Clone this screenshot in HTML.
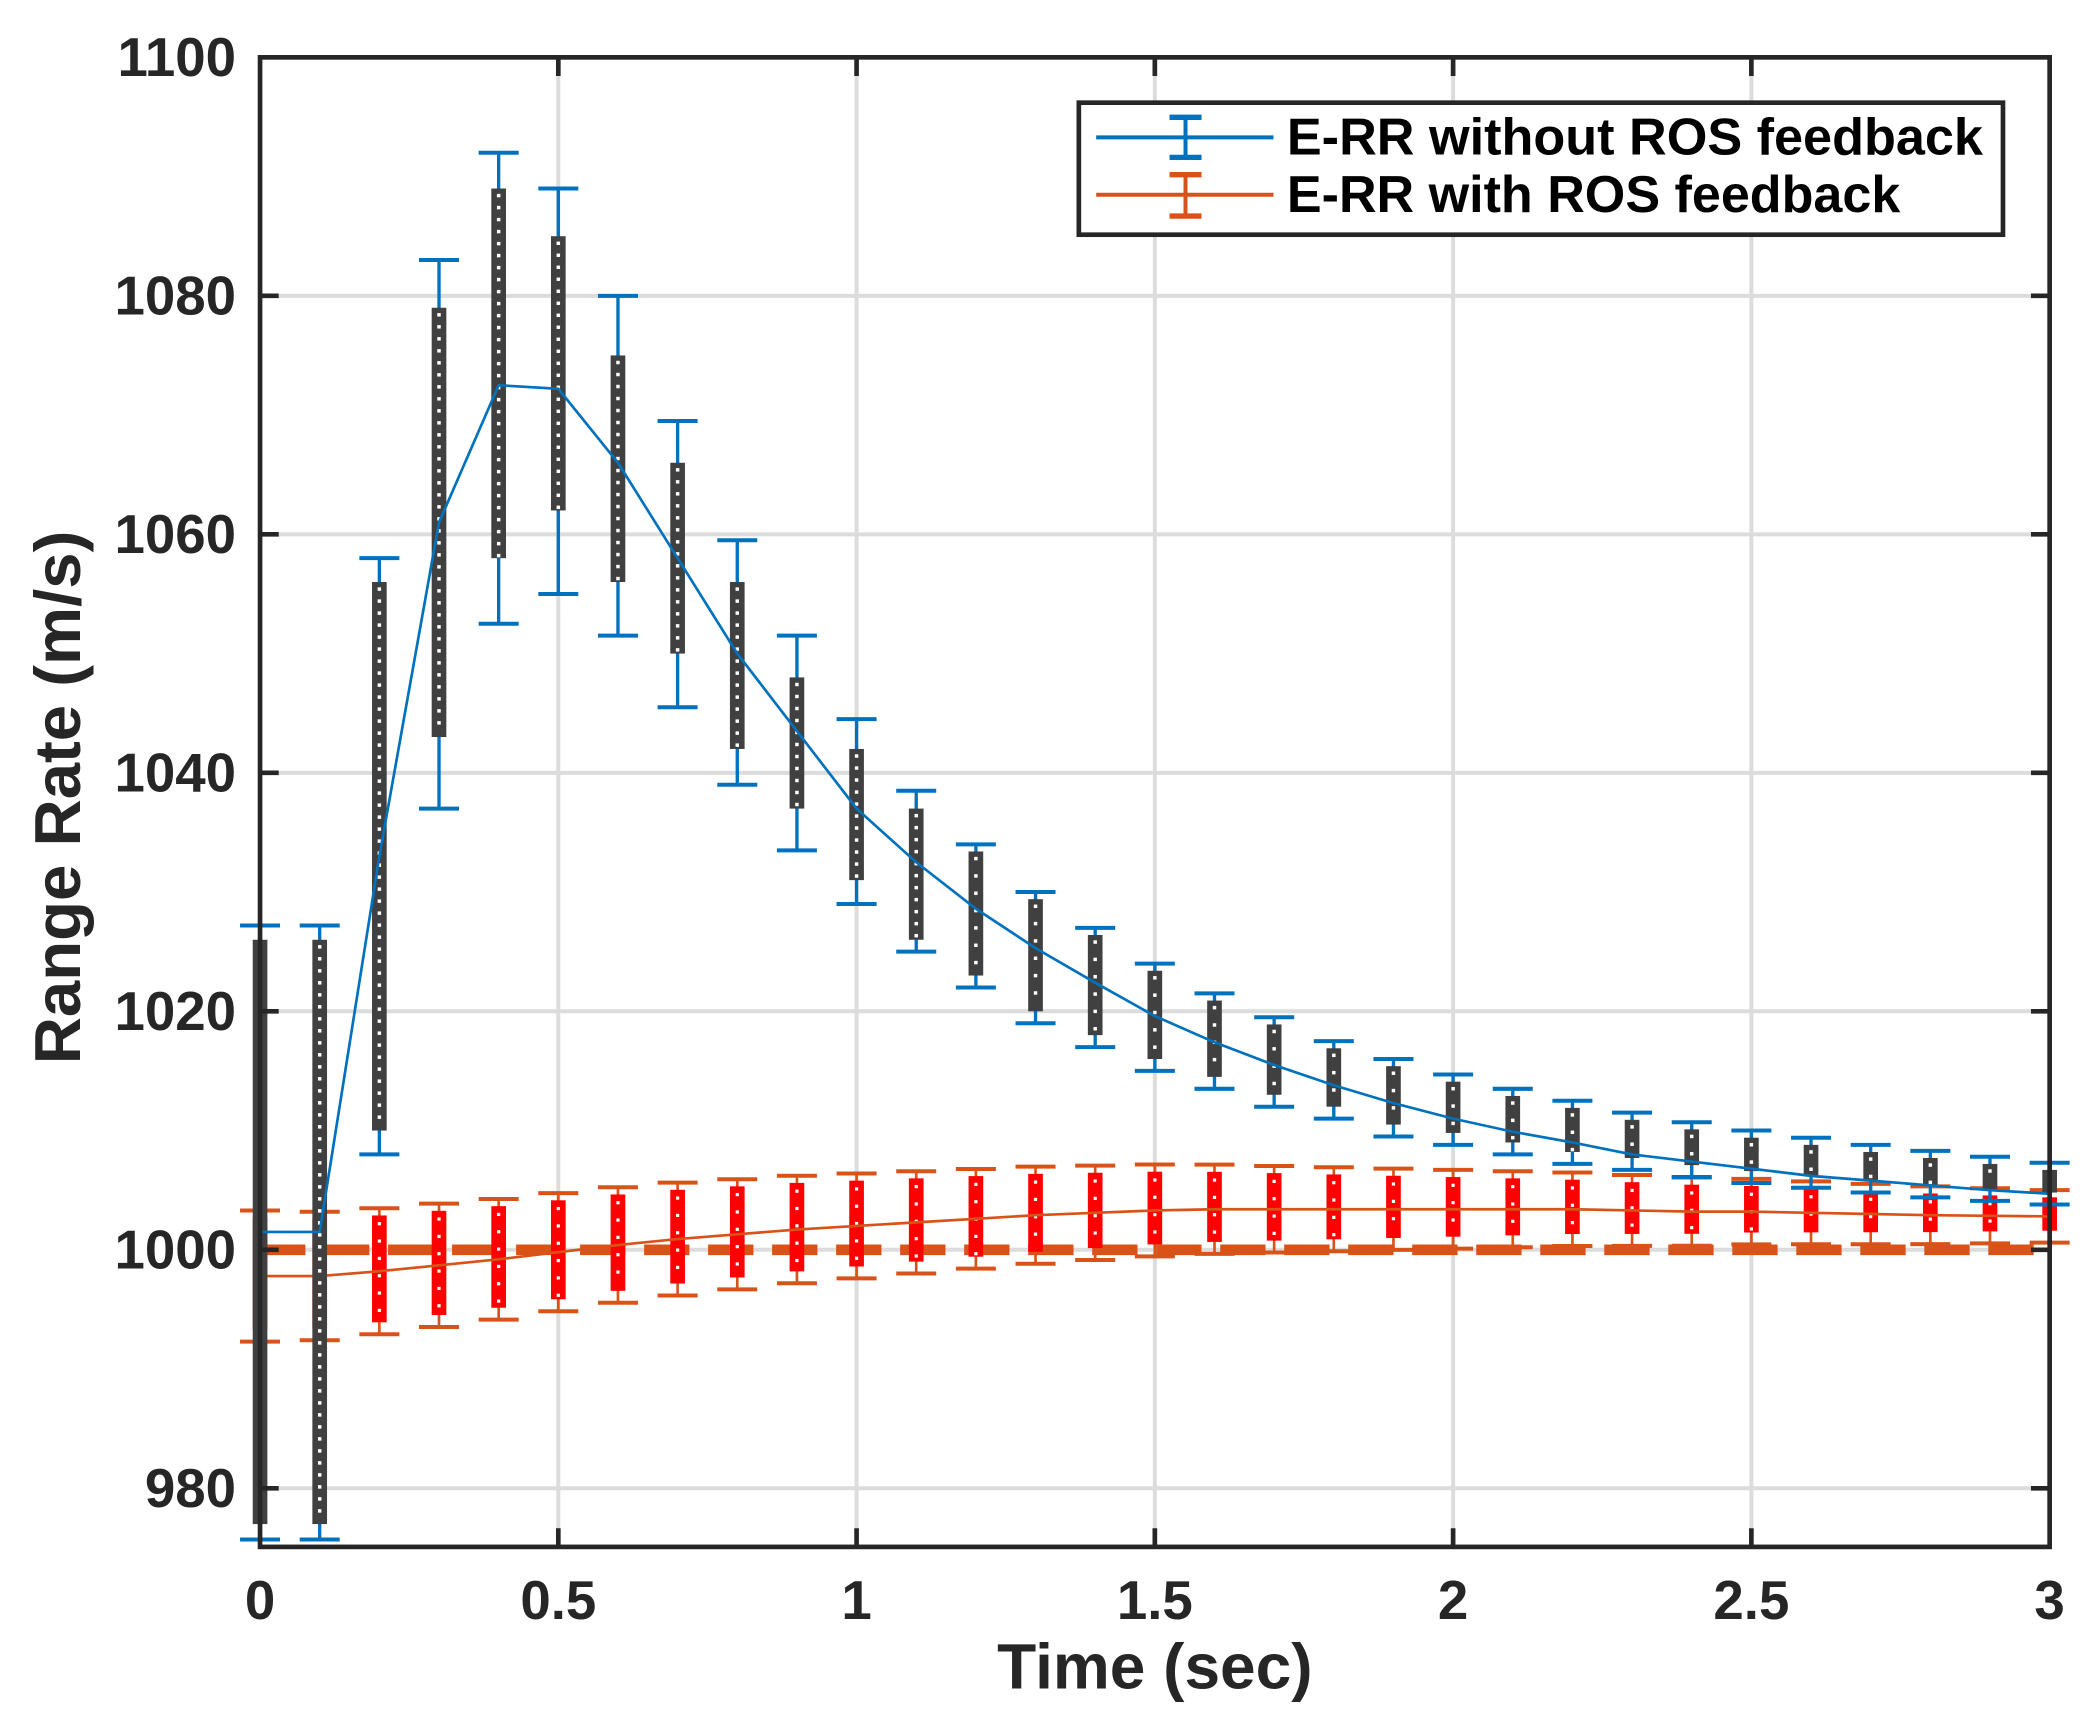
<!DOCTYPE html>
<html><head><meta charset="utf-8"><style>html,body{margin:0;padding:0;background:#fff}svg{display:block}</style></head>
<body>
<svg id="s" xmlns="http://www.w3.org/2000/svg" width="2091" height="1724" viewBox="0 0 1568 1292.8" font-family="Liberation Sans, sans-serif" font-weight="bold"></svg>
<script>
const s=document.getElementById('s');
const X=t=>195+t*447.33, Y=v=>43+(1100-v)*8.942;
let h='<rect x="0" y="0" width="1570" height="1295" fill="#fff"/>';
for(let t=0.5;t<3;t+=0.5)h+=`<line x1="${X(t)}" y1="43" x2="${X(t)}" y2="1160" stroke="#dcdcdc" stroke-width="3"/>`;
for(let v=980;v<1100;v+=20)h+=`<line x1="195" y1="${Y(v)}" x2="1537" y2="${Y(v)}" stroke="#dcdcdc" stroke-width="3"/>`;
const bm=[1001.5,1001.5,1033,1061,1072.5,1072.2,1066,1058,1050,1043.5,1037,1032.5,1028.6,1025.3,1022.4,1019.6,1017.4,1015.5,1013.8,1012.3,1011,1009.9,1009,1008,1007.4,1006.8,1006.2,1005.8,1005.4,1005,1004.7];
const bu=[1027.2,1027.2,1058,1083,1092,1089,1080,1069.5,1059.5,1051.5,1044.5,1038.5,1034,1030,1027,1024,1021.5,1019.5,1017.5,1016,1014.7,1013.5,1012.5,1011.5,1010.7,1010,1009.4,1008.8,1008.3,1007.8,1007.3];
const bl=[975.7,975.7,1008,1037,1052.5,1055,1051.5,1045.5,1039,1033.5,1029,1025,1022,1019,1017,1015,1013.5,1012,1011,1009.5,1008.8,1008,1007.2,1006.7,1006.1,1005.6,1005.2,1004.8,1004.4,1004.1,1003.8];
const gu=[1026,1026,1056,1079,1089,1085,1075,1066,1056,1048,1042,1037];
const gl=[977,977,1010,1043,1058,1062,1056,1050,1042,1037,1031,1026];
const rm=[997.8,997.8,998.2,998.7,999.2,999.8,1000.4,1000.9,1001.3,1001.7,1002,1002.3,1002.6,1002.9,1003.1,1003.3,1003.4,1003.4,1003.4,1003.4,1003.4,1003.4,1003.4,1003.3,1003.2,1003.2,1003.1,1003,1002.9,1002.85,1002.8];
h+=`<line x1="195" y1="${Y(1000)}" x2="1537" y2="${Y(1000)}" stroke="#d95319" stroke-width="8" stroke-dasharray="34,14"/>`;
const rtop=[];
for(let i=0;i<=30;i++){const t=i/10,hw=5.5-1.1*t,x=X(t);
 const u=rm[i]+hw,l=rm[i]-hw;
 h+=`<line x1="${x}" y1="${Y(u)}" x2="${x}" y2="${Y(l)}" stroke="#d95319" stroke-width="2"/>`;
 h+=`<line x1="${x-15}" y1="${Y(u)}" x2="${x+15}" y2="${Y(u)}" stroke="#d95319" stroke-width="3"/>`;
 h+=`<line x1="${x-15}" y1="${Y(l)}" x2="${x+15}" y2="${Y(l)}" stroke="#d95319" stroke-width="3"/>`;
 const ru=u-0.6, rl=l+1.0; rtop[i]=ru;
 h+=`<rect x="${x-5.5}" y="${Y(ru)}" width="11" height="${Y(rl)-Y(ru)}" fill="#ff0000"/>`;
 for(let y=Y(ru)+5;y<Y(rl)-3;y+=13)h+=`<rect x="${x-1.2}" y="${y}" width="2.4" height="2.4" fill="#fff"/>`;
}
h+=`<polyline fill="none" stroke="#d95319" stroke-width="2" points="${rm.map((v,i)=>X(i/10)+','+Y(v)).join(' ')}"/>`;
for(let i=0;i<=30;i++){const x=X(i/10);
 h+=`<line x1="${x}" y1="${Y(bu[i])}" x2="${x}" y2="${Y(bl[i])}" stroke="#0072bd" stroke-width="2.5"/>`;
 h+=`<line x1="${x-15}" y1="${Y(bu[i])}" x2="${x+15}" y2="${Y(bu[i])}" stroke="#0072bd" stroke-width="3"/>`;
 h+=`<line x1="${x-15}" y1="${Y(bl[i])}" x2="${x+15}" y2="${Y(bl[i])}" stroke="#0072bd" stroke-width="3"/>`;
 let gu_=i<12?gu[i]:bu[i]-0.6, gl_=i<12?gl[i]:Math.max(bl[i]+1,rtop[i]);
 const y1=Y(gu_),y2=Y(gl_);
 h+=`<rect x="${x-5.5}" y="${y1}" width="11" height="${y2-y1}" fill="#404040"/>`;
 for(let y=y1+4;y<y2-3;y+=(i<12?9:13))h+=`<rect x="${x-1.3}" y="${y}" width="2.6" height="2.6" fill="#fff"/>`;
}
h+=`<polyline fill="none" stroke="#0072bd" stroke-width="2" points="${bm.map((v,i)=>X(i/10)+','+Y(v)).join(' ')}"/>`;
h+=`<rect x="195" y="43" width="1342" height="1117" fill="none" stroke="#262626" stroke-width="3.5"/>`;
for(let t=0.5;t<3;t+=0.5){h+=`<line x1="${X(t)}" y1="43" x2="${X(t)}" y2="57" stroke="#262626" stroke-width="3.5"/><line x1="${X(t)}" y1="1160" x2="${X(t)}" y2="1146" stroke="#262626" stroke-width="3.5"/>`;}
for(let v=980;v<1100;v+=20){h+=`<line x1="195" y1="${Y(v)}" x2="209" y2="${Y(v)}" stroke="#262626" stroke-width="3.5"/><line x1="1537" y1="${Y(v)}" x2="1523" y2="${Y(v)}" stroke="#262626" stroke-width="3.5"/>`;}
for(let v=980;v<=1100;v+=20)h+=`<text x="177" y="${Y(v)+14}" font-size="41" text-anchor="end" fill="#262626">${v}</text>`;
['0','0.5','1','1.5','2','2.5','3'].forEach((l,i)=>h+=`<text x="${X(i*0.5)}" y="1214" font-size="41" text-anchor="middle" fill="#262626">${l}</text>`);
h+=`<text x="866" y="1266" font-size="48" text-anchor="middle" fill="#262626">Time (sec)</text>`;
h+=`<text transform="translate(60,598) rotate(-90)" font-size="49" text-anchor="middle" fill="#262626">Range Rate (m/s)</text>`;
h+=`<rect x="809" y="77" width="693" height="99" fill="#fff" stroke="#262626" stroke-width="3.5"/>`;
h+=`<line x1="822" y1="103" x2="955" y2="103" stroke="#0072bd" stroke-width="3"/><line x1="889" y1="88" x2="889" y2="118" stroke="#0072bd" stroke-width="3"/><line x1="877" y1="88" x2="901" y2="88" stroke="#0072bd" stroke-width="4"/><line x1="877" y1="118" x2="901" y2="118" stroke="#0072bd" stroke-width="4"/>`;
h+=`<line x1="822" y1="146" x2="955" y2="146" stroke="#d95319" stroke-width="3"/><line x1="889" y1="131" x2="889" y2="162" stroke="#d95319" stroke-width="3"/><line x1="877" y1="131" x2="901" y2="131" stroke="#d95319" stroke-width="4"/><line x1="877" y1="162" x2="901" y2="162" stroke="#d95319" stroke-width="4"/>`;
h+=`<text x="965" y="116" font-size="39" textLength="522" lengthAdjust="spacingAndGlyphs" fill="#000">E-RR without ROS feedback</text>`;
h+=`<text x="965" y="159" font-size="39" textLength="460" lengthAdjust="spacingAndGlyphs" fill="#000">E-RR with ROS feedback</text>`;
s.innerHTML=h;
</script>
</body></html>
